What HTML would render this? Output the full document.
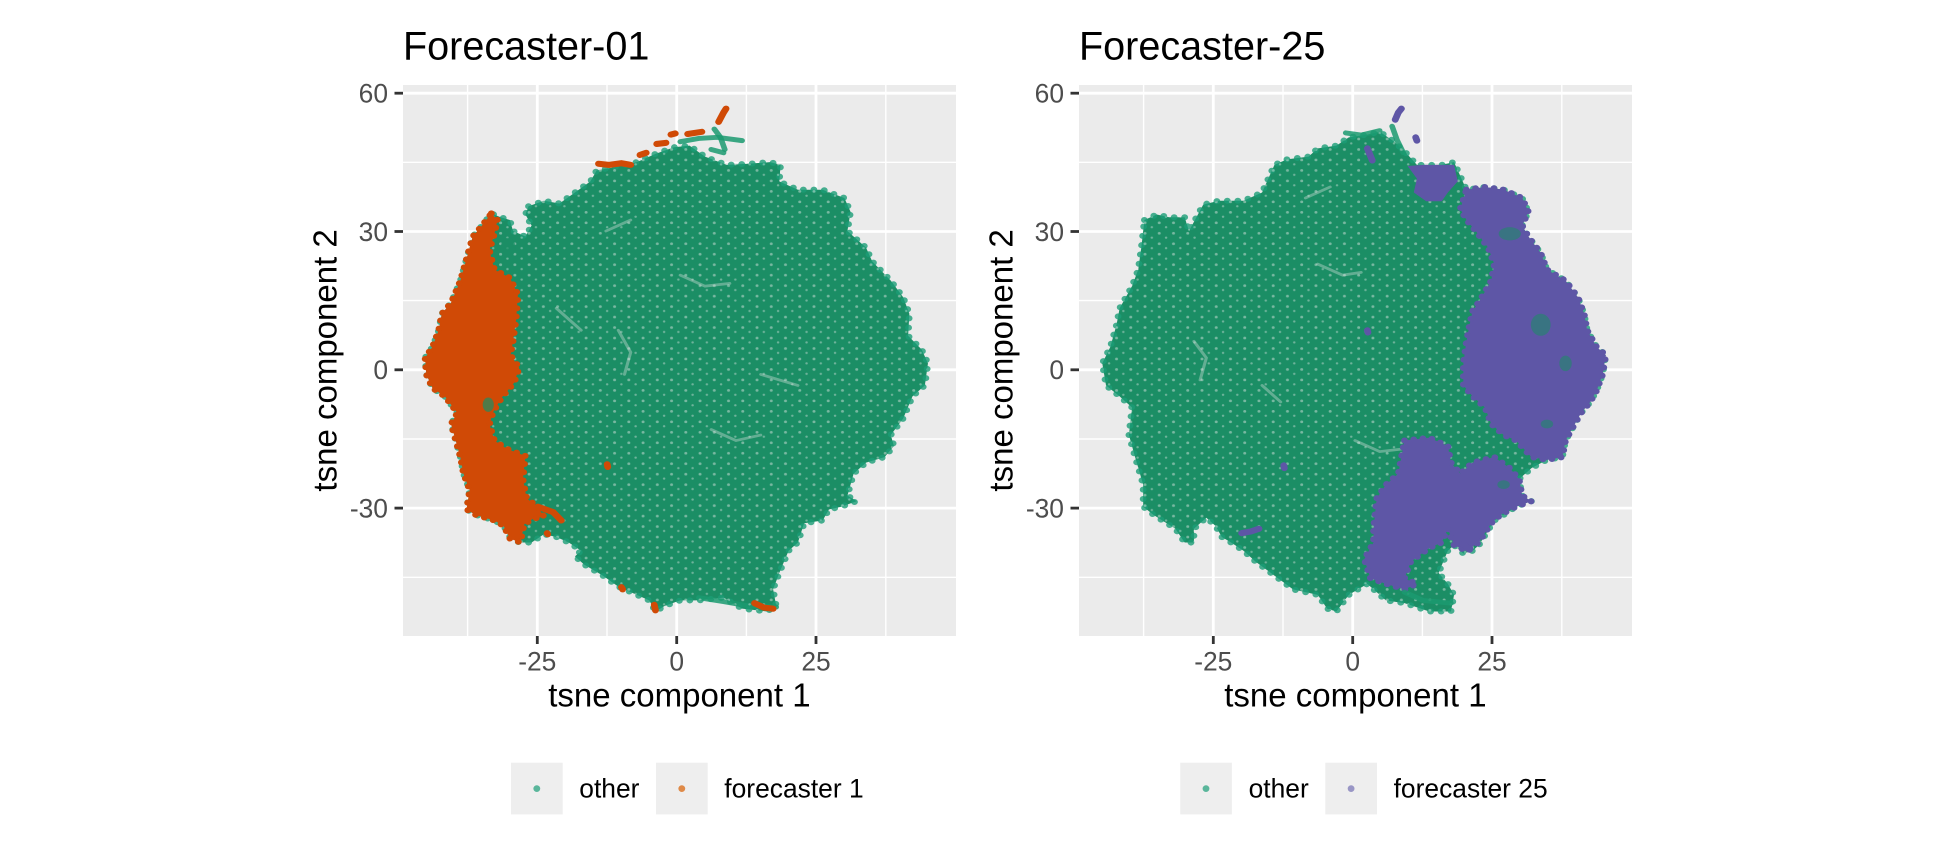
<!DOCTYPE html>
<html>
<head>
<meta charset="utf-8">
<style>
html,body{margin:0;padding:0;background:#fff;}
svg{display:block;}
text{font-family:"Liberation Sans",Arial,sans-serif;}
</style>
</head>
<body>
<svg width="1944" height="864" viewBox="0 0 1944 864" xmlns="http://www.w3.org/2000/svg">
<defs>
  <clipPath id="cl"><rect x="403" y="85" width="553" height="551"/></clipPath>
  <clipPath id="cr"><rect x="1079" y="85" width="553" height="551"/></clipPath>
  <pattern id="holes" width="23" height="19" patternUnits="userSpaceOnUse">
    <circle cx="5" cy="6" r="2.4" fill="#EBEBEB" fill-opacity="0.45"/>
    <circle cx="16" cy="14" r="2" fill="#EBEBEB" fill-opacity="0.4"/>
  </pattern>
  <path id="LU" d="M855,375 L880,365 905,370 930,350 955,330 965,310 990,305 1030,295 1060,280 1090,268 1115,265 1140,285 1175,300 1210,298 1245,295 1262,300 1260,330 1290,345 1330,345 1365,360 1375,385 1370,420 1400,450 1410,475 1440,510 1460,540 1470,570 1468,610 1490,635 1500,660 1495,700 1475,720 1460,760 1440,790 1445,810 1430,830 1400,840 1380,860 1370,900 1385,910 1360,920 1340,925 1330,945 1300,950 1290,985 1275,1000 1260,1040 1250,1070 1255,1100 1240,1110 1200,1105 1170,1085 1130,1090 1100,1090 1075,1100 1060,1110 1050,1090 1020,1075 1000,1065 975,1045 945,1025 930,1010 940,1000 920,985 900,975 880,970 860,985 840,985 825,975 815,955 800,945 770,935 755,925 760,890 750,860 745,830 735,790 730,770 740,750 720,720 700,705 690,680 688,650 700,630 710,600 715,570 730,550 745,510 755,470 765,430 780,410 795,388 810,395 825,400 830,420 850,430 860,410 850,390 Z"/>
  <path id="RU" d="M280,400 L300,390 320,395 345,395 352,420 375,372 400,365 440,365 470,350 490,300 510,290 545,285 560,270 590,265 610,250 640,245 660,240 680,255 700,275 720,300 760,300 780,295 790,320 800,345 830,340 860,345 890,360 900,385 890,410 900,430 920,460 930,490 960,510 980,540 990,570 995,600 1010,630 1025,645 1020,680 1010,710 1000,730 985,750 970,780 960,800 955,830 930,835 905,850 885,870 890,900 905,910 880,920 860,935 845,945 820,990 810,1000 795,1005 780,990 770,1000 755,1040 770,1060 780,1080 775,1110 740,1110 700,1095 670,1090 640,1060 610,1080 590,1110 575,1105 560,1080 520,1070 490,1045 460,1020 440,1000 420,985 405,975 395,955 380,940 360,960 360,985 345,985 330,960 295,935 278,920 278,880 265,830 255,790 260,740 240,720 218,700 212,660 225,630 235,590 240,560 260,520 270,490 275,450 Z"/>
  <path id="LO" d="M795,388 L805,400 800,425 792,455 800,490 825,505 838,535 835,580 830,620 826,645 840,668 832,695 812,722 798,748 792,770 800,800 820,815 850,828 846,870 852,905 870,920 880,938 862,942 848,952 842,985 825,978 815,955 800,945 770,935 755,925 760,890 750,860 745,830 735,790 730,770 740,750 720,720 700,705 690,680 688,650 700,630 710,600 715,570 730,550 745,510 755,470 765,430 780,410 Z"/>
  <path id="RP1" d="M800,345 L830,340 860,345 890,360 900,385 890,410 900,430 920,460 930,490 960,510 980,540 990,570 995,600 1010,630 1025,645 1020,680 1010,710 1000,730 985,750 970,780 960,800 955,830 930,835 905,830 880,800 860,790 840,770 830,740 810,720 795,700 795,660 800,620 805,590 810,565 822,545 840,510 845,480 835,450 815,420 800,400 790,380 Z"/>
  <path id="RP2" d="M700,800 L740,795 770,810 775,840 790,860 810,840 845,830 870,850 885,870 890,900 905,910 880,920 855,935 840,950 820,985 800,1000 780,990 770,960 760,985 740,995 710,1020 700,1050 720,1060 700,1070 670,1060 645,1050 635,1015 650,985 650,960 655,905 670,880 690,860 695,830 Z"/>
</defs>
<rect width="1944" height="864" fill="#fff"/>

<!-- ================= LEFT PANEL ================= -->
<rect x="403" y="85" width="553" height="551" fill="#EBEBEB"/>
<g stroke="#fff" stroke-width="1.4">
  <line x1="467.6" y1="85" x2="467.6" y2="636"/>
  <line x1="607" y1="85" x2="607" y2="636"/>
  <line x1="746.4" y1="85" x2="746.4" y2="636"/>
  <line x1="885.8" y1="85" x2="885.8" y2="636"/>
  <line x1="403" y1="162.3" x2="956" y2="162.3"/>
  <line x1="403" y1="300.6" x2="956" y2="300.6"/>
  <line x1="403" y1="439" x2="956" y2="439"/>
  <line x1="403" y1="577.3" x2="956" y2="577.3"/>
</g>
<g stroke="#fff" stroke-width="2.8">
  <line x1="537.3" y1="85" x2="537.3" y2="636"/>
  <line x1="676.7" y1="85" x2="676.7" y2="636"/>
  <line x1="816" y1="85" x2="816" y2="636"/>
  <line x1="403" y1="93.2" x2="956" y2="93.2"/>
  <line x1="403" y1="231.5" x2="956" y2="231.5"/>
  <line x1="403" y1="369.8" x2="956" y2="369.8"/>
  <line x1="403" y1="508.1" x2="956" y2="508.1"/>
</g>

<g clip-path="url(#cl)">
<g transform="matrix(0.6193 0 0 0.5513 -1 -0.5)">
  <use href="#LU" fill="#1B8E65"/>
  <use href="#LU" fill="none" stroke="#1B9E77" stroke-opacity="0.8" stroke-width="11" stroke-linecap="round" stroke-dasharray="0 17"/>
  <g stroke="#1B9A70" stroke-opacity="0.85" stroke-linecap="round" fill="none" stroke-width="9">
    <polyline points="1100,258 1130,252 1160,250 1200,256"/>
    <polyline points="1150,272 1170,278"/>
    <polyline points="1155,235 1165,250 1172,272"/>
    <polyline points="1130,1085 1170,1092 1210,1100 1255,1102"/>
  </g>
  <g stroke="#EBEBEB" stroke-opacity="0.35" stroke-linecap="round" fill="none" stroke-width="5">
    <polyline points="1230,680 1260,690 1290,700"/>
    <polyline points="1000,600 1020,640 1010,680"/>
    <polyline points="1100,500 1140,520 1180,515"/>
    <polyline points="900,560 940,600"/>
    <polyline points="1150,780 1190,800 1230,790"/>
    <polyline points="980,420 1020,400"/>
  </g>
  <use href="#LU" fill="url(#holes)"/>

  <!-- orange region -->
  <use href="#LO" fill="#D04A06"/>
  <use href="#LO" fill="none" stroke="#D04A06" stroke-width="11" stroke-linecap="round" stroke-dasharray="0 15"/>
  <g fill="#1B8E65" fill-opacity="0.7">
    <ellipse cx="790" cy="735" rx="9" ry="13"/>
    <ellipse cx="822" cy="450" rx="12" ry="18"/>
  </g>
  <g stroke="#D04A06" stroke-linecap="round" fill="none" stroke-width="11">
    <polyline points="968,298 985,300 1005,297 1020,300"/>
    <polyline points="1035,282 1045,278"/>
    <polyline points="1062,262 1077,260"/>
    <polyline points="1085,245 1092,243"/>
    <polyline points="1112,244 1135,240"/>
    <polyline points="1162,222 1170,205 1174,198"/>
    <polyline points="870,920 895,930 908,945"/>
    <polyline points="1220,1095 1235,1103 1250,1105"/>
    <polyline points="1058,1098 1060,1108"/>
    <polyline points="1005,1066 1007,1070"/>
    <polyline points="982,843 983,848"/>
    <polyline points="885,968 886,970"/>
  </g>
</g>
</g>

<!-- left axes -->
<g stroke="#333" stroke-width="2.8">
  <line x1="394.5" y1="93.2" x2="403" y2="93.2"/>
  <line x1="394.5" y1="231.5" x2="403" y2="231.5"/>
  <line x1="394.5" y1="369.8" x2="403" y2="369.8"/>
  <line x1="394.5" y1="508.1" x2="403" y2="508.1"/>
  <line x1="537.3" y1="636" x2="537.3" y2="644"/>
  <line x1="676.7" y1="636" x2="676.7" y2="644"/>
  <line x1="816" y1="636" x2="816" y2="644"/>
</g>
<g fill="#4D4D4D" font-size="26.4" text-anchor="end">
  <text x="388" y="102.6">60</text>
  <text x="388" y="240.9">30</text>
  <text x="388" y="379.2">0</text>
  <text x="388" y="517.5">-30</text>
</g>
<g fill="#4D4D4D" font-size="26.4" text-anchor="middle">
  <text x="537.3" y="670.7">-25</text>
  <text x="676.7" y="670.7">0</text>
  <text x="816" y="670.7">25</text>
</g>
<text x="679.4" y="706.5" font-size="33" text-anchor="middle" fill="#000">tsne component 1</text>
<text transform="translate(336.7,360.4) rotate(-90)" font-size="33" text-anchor="middle" fill="#000">tsne component 2</text>
<text x="403" y="59.3" font-size="39.6" fill="#000">Forecaster-01</text>

<!-- left legend -->
<rect x="511" y="762.7" width="51.7" height="51.7" fill="#EEEEEE"/>
<rect x="656" y="762.7" width="51.7" height="51.7" fill="#EEEEEE"/>
<circle cx="536.8" cy="788.6" r="3.4" fill="#1B9E77" fill-opacity="0.7"/>
<circle cx="681.8" cy="788.6" r="3.4" fill="#D95F02" fill-opacity="0.7"/>
<text x="579.3" y="797.3" font-size="26.4" fill="#000">other</text>
<text x="724.3" y="797.3" font-size="26.4" fill="#000">forecaster 1</text>

<!-- ================= RIGHT PANEL ================= -->
<rect x="1079" y="85" width="553" height="551" fill="#EBEBEB"/>
<g stroke="#fff" stroke-width="1.4">
  <line x1="1143.6" y1="85" x2="1143.6" y2="636"/>
  <line x1="1283" y1="85" x2="1283" y2="636"/>
  <line x1="1422.4" y1="85" x2="1422.4" y2="636"/>
  <line x1="1561.8" y1="85" x2="1561.8" y2="636"/>
  <line x1="1079" y1="162.3" x2="1632" y2="162.3"/>
  <line x1="1079" y1="300.6" x2="1632" y2="300.6"/>
  <line x1="1079" y1="439" x2="1632" y2="439"/>
  <line x1="1079" y1="577.3" x2="1632" y2="577.3"/>
</g>
<g stroke="#fff" stroke-width="2.8">
  <line x1="1213.3" y1="85" x2="1213.3" y2="636"/>
  <line x1="1352.7" y1="85" x2="1352.7" y2="636"/>
  <line x1="1492" y1="85" x2="1492" y2="636"/>
  <line x1="1079" y1="93.2" x2="1632" y2="93.2"/>
  <line x1="1079" y1="231.5" x2="1632" y2="231.5"/>
  <line x1="1079" y1="369.8" x2="1632" y2="369.8"/>
  <line x1="1079" y1="508.1" x2="1632" y2="508.1"/>
</g>

<g clip-path="url(#cr)">
<g transform="matrix(0.6193 0 0 0.5513 971 -0.5)">
  <use href="#RU" fill="#1B8E65"/>
  <use href="#RU" fill="none" stroke="#1B9E77" stroke-opacity="0.8" stroke-width="11" stroke-linecap="round" stroke-dasharray="0 17"/>
  <g stroke="#1B9A70" stroke-opacity="0.85" stroke-linecap="round" fill="none" stroke-width="9">
    <polyline points="605,242 630,246 660,238"/>
    <polyline points="680,230 688,255 698,278"/>
  </g>
  <g stroke="#EBEBEB" stroke-opacity="0.35" stroke-linecap="round" fill="none" stroke-width="5">
    <polyline points="360,620 380,650 370,690"/>
    <polyline points="560,480 600,500 630,495"/>
    <polyline points="470,700 500,730"/>
    <polyline points="620,800 660,820 700,815"/>
    <polyline points="540,360 580,340"/>
  </g>
  <use href="#RU" fill="url(#holes)"/>

  <!-- purple regions -->
  <g fill="#5E56A6">
    <path d="M705,302 L730,300 760,300 780,300 786,330 770,350 760,366 735,366 715,350 720,325 Z"/>
    <use href="#RP1"/>
    <use href="#RP2"/>
  </g>
  <g fill="none" stroke="#5E56A6" stroke-width="11" stroke-linecap="round" stroke-dasharray="0 15">
    <use href="#RP1"/>
    <use href="#RP2"/>
  </g>
  <g fill="#1B8E65" fill-opacity="0.55">
    <ellipse cx="870" cy="425" rx="18" ry="12"/>
    <ellipse cx="920" cy="590" rx="16" ry="20"/>
    <ellipse cx="960" cy="660" rx="10" ry="14"/>
    <ellipse cx="930" cy="770" rx="10" ry="8"/>
    <ellipse cx="860" cy="880" rx="10" ry="8"/>
  </g>
  <g stroke="#5E56A6" stroke-linecap="round" fill="none" stroke-width="11">
    <polyline points="685,218 690,205 695,198"/>
    <polyline points="640,270 648,292"/>
    <polyline points="437,968 452,965 465,960"/>
    <polyline points="795,988 805,998"/>
    <polyline points="640,600 641,604"/>
    <polyline points="505,845 506,850"/>
    <polyline points="718,250 720,256"/>
  </g>
  <g stroke="#1B9A70" stroke-opacity="0.85" stroke-linecap="round" fill="none" stroke-width="9">
    <polyline points="700,1075 730,1090 775,1095"/>
  </g>
</g>
</g>

<!-- right axes -->
<g stroke="#333" stroke-width="2.8">
  <line x1="1070.5" y1="93.2" x2="1079" y2="93.2"/>
  <line x1="1070.5" y1="231.5" x2="1079" y2="231.5"/>
  <line x1="1070.5" y1="369.8" x2="1079" y2="369.8"/>
  <line x1="1070.5" y1="508.1" x2="1079" y2="508.1"/>
  <line x1="1213.3" y1="636" x2="1213.3" y2="644"/>
  <line x1="1352.7" y1="636" x2="1352.7" y2="644"/>
  <line x1="1492" y1="636" x2="1492" y2="644"/>
</g>
<g fill="#4D4D4D" font-size="26.4" text-anchor="end">
  <text x="1064" y="102.6">60</text>
  <text x="1064" y="240.9">30</text>
  <text x="1064" y="379.2">0</text>
  <text x="1064" y="517.5">-30</text>
</g>
<g fill="#4D4D4D" font-size="26.4" text-anchor="middle">
  <text x="1213.3" y="670.7">-25</text>
  <text x="1352.7" y="670.7">0</text>
  <text x="1492" y="670.7">25</text>
</g>
<text x="1355.4" y="706.5" font-size="33" text-anchor="middle" fill="#000">tsne component 1</text>
<text transform="translate(1012.7,360.4) rotate(-90)" font-size="33" text-anchor="middle" fill="#000">tsne component 2</text>
<text x="1079" y="59.3" font-size="39.6" fill="#000">Forecaster-25</text>

<!-- right legend -->
<rect x="1180.2" y="762.7" width="51.7" height="51.7" fill="#EEEEEE"/>
<rect x="1325.3" y="762.7" width="51.7" height="51.7" fill="#EEEEEE"/>
<circle cx="1206" cy="788.6" r="3.4" fill="#1B9E77" fill-opacity="0.7"/>
<circle cx="1351.1" cy="788.6" r="3.4" fill="#7570B3" fill-opacity="0.7"/>
<text x="1248.6" y="797.3" font-size="26.4" fill="#000">other</text>
<text x="1393.6" y="797.3" font-size="26.4" fill="#000">forecaster 25</text>
</svg>
</body>
</html>
